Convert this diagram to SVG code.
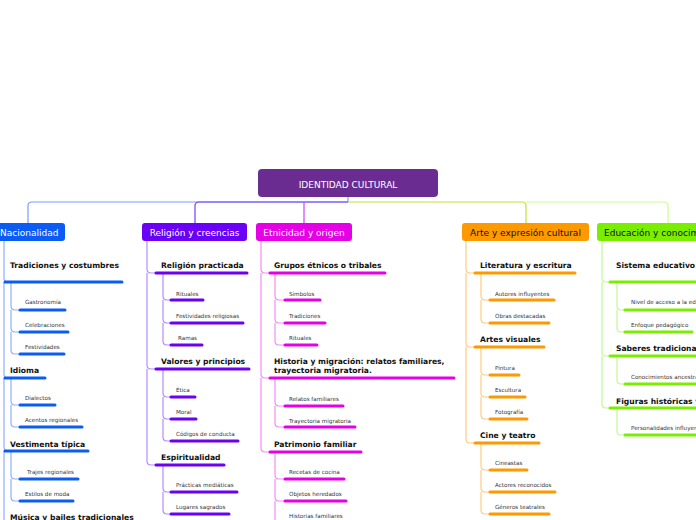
<svg xmlns="http://www.w3.org/2000/svg" width="696" height="520" viewBox="0 0 696 520">
<style>
.b{font-family:"DejaVu Sans",sans-serif;font-weight:bold;font-size:7.6px;fill:#111}
.s{font-family:"DejaVu Sans",sans-serif;font-size:5.6px;fill:#333}
.t{font-family:"DejaVu Sans",sans-serif;font-size:9px}
.l{fill:none;stroke-width:1.2}
.u{fill:none;stroke-width:3;stroke-linecap:round}
</style>
<g id="connectors">
<path class="l" stroke="#7b9cff" d="M348,197 V202 H32 Q28,202 28,206 V223"/>
<path class="l" stroke="#7a3cff" d="M348,202 H199 Q195,202 195,206 V223"/>
<path class="l" stroke="#cc44ff" d="M304,202 V223"/>
<path class="l" stroke="#c6e032" d="M348,202 H522 Q526,202 526,206 V223"/>
<path class="l" stroke="#c8ff88" d="M526,202 H664 Q668,202 668,206 V223"/>
</g>
<g id="root"><rect x="258" y="169" width="180" height="28" rx="4" fill="#6a2c91"/><text class="t" x="348" y="188" text-anchor="middle" fill="#fff" font-size="12.5">IDENTIDAD CULTURAL</text></g>
<g id="nacionalidad">
<rect x="-10" y="223" width="75" height="18" rx="3" fill="#0a5cf5"/><text class="t" x="0" y="236" fill="#fff">Nacionalidad</text>
<g stroke="#8fb0ff"><path class="l" d="M4,241 V278 Q4,282 8,282 M4,282 V374 Q4,378 8,378 M4,378 V447 Q4,451 8,451 M4,451 V520"/>
<path class="l" d="M11,282 V306 Q11,310 15,310 H20 M11,310 V328 Q11,332 15,332 H20 M11,332 V350 Q11,354 15,354 H20"/>
<path class="l" d="M11,378 V401 Q11,405 15,405 H20 M11,405 V423 Q11,427 15,427 H20"/>
<path class="l" d="M11,451 V475 Q11,479 15,479 H20 M11,479 V497 Q11,501 15,501 H20"/></g>
<g stroke="#0a5cf5"><path class="u" d="M5,282H122M20,310H65M20,332H68M20,354H64M5,378H45M20,405H55M20,427H82M5,451H88M20,479H78M20,501H73"/></g>
<text class="b" x="10" y="268">Tradiciones y costumbres</text>
<text class="s" x="25" y="304">Gastronomía</text><text class="s" x="25" y="327">Celebraciones</text><text class="s" x="25" y="349">Festividades</text>
<text class="b" x="10" y="373">Idioma</text>
<text class="s" x="25" y="400">Dialectos</text><text class="s" x="25" y="422">Acentos regionales</text>
<text class="b" x="10" y="447">Vestimenta típica</text>
<text class="s" x="27" y="474">Trajes regionales</text><text class="s" x="25" y="496">Estilos de moda</text>
<text class="b" x="10" y="520">Música y bailes tradicionales</text>
</g>
<g id="religion">
<rect x="142" y="223" width="105" height="18" rx="3" fill="#6a00f5"/><text class="t" x="194.5" y="236" text-anchor="middle" fill="#fff">Religión y creencias</text>
<g stroke="#b38cff"><path class="l" d="M147,241 V269 Q147,273 151,273 H156 M147,273 V365 Q147,369 151,369 H156 M147,369 V461 Q147,465 151,465 H156"/>
<path class="l" d="M163,273 V296 Q163,300 167,300 H171 M163,300 V319 Q163,323 167,323 H171 M163,323 V341 Q163,345 167,345 H171"/>
<path class="l" d="M163,369 V393 Q163,397 167,397 H171 M163,397 V415 Q163,419 167,419 H171 M163,419 V437 Q163,441 167,441 H171"/>
<path class="l" d="M163,465 V488 Q163,492 167,492 H171 M163,492 V510 Q163,514 167,514 H171"/></g>
<g stroke="#6a00f5"><path class="u" d="M156,273H247M171,300H203M171,323H243M171,345H202M156,369H249M171,397H195M171,419H196M171,441H238M156,465H224M171,492H237M171,514H229"/></g>
<text class="b" x="161" y="268">Religión practicada</text>
<text class="s" x="176" y="296">Rituales</text><text class="s" x="176" y="318">Festividades religiosas</text><text class="s" x="178" y="340">Ramas</text>
<text class="b" x="161" y="364">Valores y principios</text>
<text class="s" x="176" y="392">Ética</text><text class="s" x="176" y="414">Moral</text><text class="s" x="176" y="436">Códigos de conducta</text>
<text class="b" x="161" y="460">Espiritualidad</text>
<text class="s" x="176" y="487">Prácticas mediáticas</text><text class="s" x="176" y="509">Lugares sagrados</text>
</g>
<g id="etnicidad">
<rect x="256" y="223" width="96" height="18" rx="3" fill="#e600e6"/><text class="t" x="304" y="236" text-anchor="middle" fill="#fff">Etnicidad y origen</text>
<g stroke="#f58cf5"><path class="l" d="M261,241 V269 Q261,273 265,273 H270 M261,273 V374 Q261,378 265,378 H270 M261,378 V448 Q261,452 265,452 H270"/>
<path class="l" d="M275,273 V296 Q275,300 279,300 H285 M275,300 V319 Q275,323 279,323 H285 M275,323 V341 Q275,345 279,345 H285"/>
<path class="l" d="M275,378 V402 Q275,406 279,406 H285 M275,406 V423 Q275,427 279,427 H285"/>
<path class="l" d="M275,452 V475 Q275,479 279,479 H285 M275,479 V497 Q275,501 279,501 H285 M275,501 V520"/></g>
<g stroke="#e600e6"><path class="u" d="M270,273H385M285,300H320M285,323H325M285,345H317M270,378H454M285,406H343M285,427H355M270,452H361M285,479H344M285,501H346"/></g>
<text class="b" x="274" y="268">Grupos étnicos o tribales</text>
<text class="s" x="289" y="296">Símbolos</text><text class="s" x="289" y="318">Tradiciones</text><text class="s" x="289" y="340">Rituales</text>
<text class="b" x="274" y="364">Historia y migración: relatos familiares,</text>
<text class="b" x="274" y="373">trayectoria migratoria.</text>
<text class="s" x="289" y="401">Relatos familiares</text><text class="s" x="289" y="423">Trayectoria migratoria</text>
<text class="b" x="274" y="447">Patrimonio familiar</text>
<text class="s" x="289" y="474">Recetas de cocina</text><text class="s" x="289" y="496">Objetos heredados</text><text class="s" x="289" y="518">Historias familiares</text>
</g>
<g id="arte">
<rect x="462" y="223" width="127" height="18" rx="3" fill="#ff9900"/><text class="t" x="525.5" y="236" text-anchor="middle" fill="#111">Arte y expresión cultural</text>
<g stroke="#ffcc80"><path class="l" d="M466,241 V269 Q466,273 470,273 H475 M466,273 V343 Q466,347 470,347 H475 M466,347 V439 Q466,443 470,443 H475"/>
<path class="l" d="M481,273 V296 Q481,300 485,300 H490 M481,300 V319 Q481,323 485,323 H490"/>
<path class="l" d="M481,347 V371 Q481,375 485,375 H490 M481,375 V393 Q481,397 485,397 H490 M481,397 V415 Q481,419 485,419 H490"/>
<path class="l" d="M481,443 V466 Q481,470 485,470 H490 M481,470 V488 Q481,492 485,492 H490 M481,492 V510 Q481,514 485,514 H490"/></g>
<g stroke="#ff9900"><path class="u" d="M475,273H575M490,300H554M490,323H549M475,347H544M490,375H519M490,397H525M490,419H527M475,443H539M490,470H527M490,492H555M490,514H549"/></g>
<text class="b" x="480" y="268">Literatura y escritura</text>
<text class="s" x="495" y="296">Autores influyentes</text><text class="s" x="495" y="318">Obras destacadas</text>
<text class="b" x="480" y="342">Artes visuales</text>
<text class="s" x="495" y="370">Pintura</text><text class="s" x="495" y="392">Escultura</text><text class="s" x="495" y="414">Fotografía</text>
<text class="b" x="480" y="438">Cine y teatro</text>
<text class="s" x="495" y="465">Cineastas</text><text class="s" x="495" y="487">Actores reconocidos</text><text class="s" x="495" y="509">Géneros teatrales</text>
</g>
<g id="educacion">
<rect x="597" y="223" width="120" height="18" rx="3" fill="#7aee00"/><text class="t" x="604" y="236" fill="#111">Educación y conocimiento</text>
<g stroke="#c4f792"><path class="l" d="M602,241 V278 Q602,282 606,282 H610 M602,282 V352 Q602,356 606,356 H610 M602,356 V404 Q602,408 606,408 H610"/>
<path class="l" d="M617,282 V306 Q617,310 621,310 H625 M617,310 V328 Q617,332 621,332 H625"/>
<path class="l" d="M617,356 V380 Q617,384 621,384 H625"/>
<path class="l" d="M617,408 V431 Q617,435 621,435 H625"/></g>
<g stroke="#7aee00"><path class="u" d="M610,282H700M625,310H700M625,332H692M610,356H700M625,384H700M610,408H700M625,435H700"/></g>
<text class="b" x="616" y="268">Sistema educativo</text>
<text class="s" x="631" y="304">Nivel de acceso a la educación</text><text class="s" x="631" y="327">Enfoque pedagógico</text>
<text class="b" x="616" y="351">Saberes tradicionales</text>
<text class="s" x="631" y="379">Conocimientos ancestrales</text>
<text class="b" x="616" y="404">Figuras históricas y</text>
<text class="s" x="631" y="430">Personalidades influyentes</text>
</g>
</svg>
